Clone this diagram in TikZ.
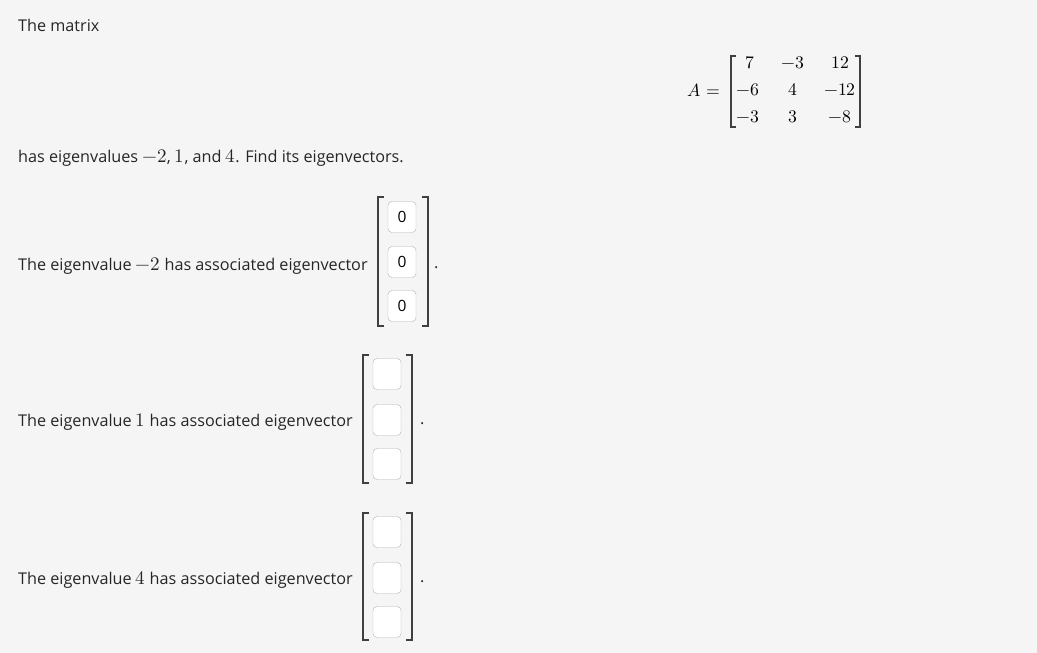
\documentclass[tikz,border=0pt]{standalone}
\usepackage{fontspec}
\setmainfont{Open Sans}
\usepackage{amsmath}
\usepackage{unicode-math}
\setmathfont{Latin Modern Math}[Scale=1.18]
\begin{document}
\begin{tikzpicture}[x=1pt,y=-1pt,
  txt/.style={anchor=west,inner sep=0pt,font=\fontsize{16.2}{19}\selectfont,text=black!85},
  ent/.style={inner sep=0pt,font=\fontsize{15}{19}\selectfont},
  brk/.style={draw=black!75,line width=1.8pt},
  ibox/.style={draw=black!30,rounded corners=4pt,fill=white,minimum width=28pt,minimum height=31pt,inner sep=0pt,font=\fontsize{15.5}{18}\selectfont}]
\useasboundingbox[fill={rgb,255:red,245;green,245;blue,245}] (0,0) rectangle (1037,653);
\node[txt] (t1) at (18,25) {The matrix};
\node[txt] (t2) at (18,158) {has eigenvalues $-2$, $1$, and $4$. Find its eigenvectors.};
% matrix
\node[ent,anchor=east] (A) at (720,90) {$A=$};
\draw[brk] (736,56) -- (731,56) -- (731,127) -- (736,127);
\draw[brk] (855,56) -- (860,56) -- (860,127) -- (855,127);
\node[ent] (m11) at (750,63) {$7$};
\node[ent] (m12) at (793,63) {$-3$};
\node[ent] (m13) at (840,63) {$12$};
\node[ent] (m21) at (748,90) {$-6$};
\node[ent] (m22) at (793,90) {$4$};
\node[ent] (m23) at (840,90) {$-12$};
\node[ent] (m31) at (748,117) {$-3$};
\node[ent] (m32) at (793,117) {$3$};
\node[ent] (m33) at (840,117) {$-8$};
% vector 1
\node[txt] (l1) at (18,266) {The eigenvalue $-2$ has associated eigenvector};
\draw[brk] (384,197) -- (378,197) -- (378,326) -- (384,326);
\draw[brk] (422,197) -- (428,197) -- (428,326) -- (422,326);
\node[ibox] (a1) at (402,217) {0};
\node[ibox] (a2) at (402,262) {0};
\node[ibox] (a3) at (402,306) {0};
\node[txt] (p1) at (434,268) {.};
% vector 2
\node[txt] (l2) at (18,422) {The eigenvalue $1$ has associated eigenvector};
\draw[brk] (369,355) -- (363,355) -- (363,483) -- (369,483);
\draw[brk] (406,355) -- (412,355) -- (412,483) -- (406,483);
\node[ibox] (b1) at (387,374) {};
\node[ibox] (b2) at (387,420) {};
\node[ibox] (b3) at (387,464) {};
\node[txt] (p2) at (420,424) {.};
% vector 3
\node[txt] (l3) at (18,580) {The eigenvalue $4$ has associated eigenvector};
\draw[brk] (369,513) -- (363,513) -- (363,640) -- (369,640);
\draw[brk] (406,513) -- (412,513) -- (412,640) -- (406,640);
\node[ibox] (c1) at (387,532) {};
\node[ibox] (c2) at (387,578) {};
\node[ibox] (c3) at (387,622) {};
\node[txt] (p3) at (420,582) {.};
\end{tikzpicture}
\end{document}
